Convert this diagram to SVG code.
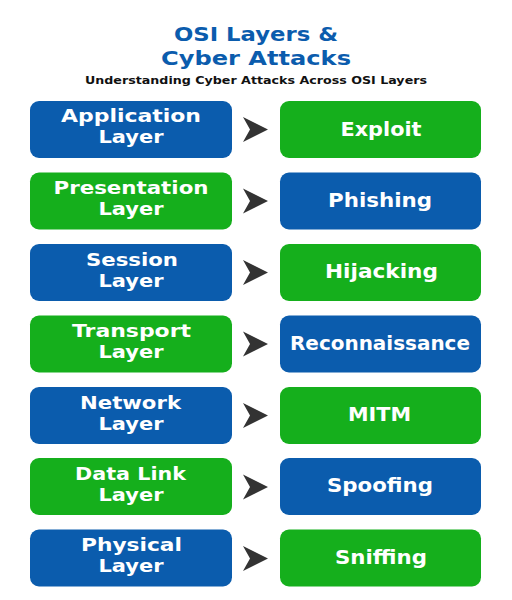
<svg xmlns="http://www.w3.org/2000/svg" width="512" height="600" viewBox="0 0 512 600">
<defs>
<style>
.t{font-family:"DejaVu Sans","Liberation Sans",sans-serif;font-weight:700;text-anchor:middle}
.title{fill:#0B5CAD;font-size:20px}
.sub{fill:#111;font-size:11px}
.b{fill:#0B5CAD}
.g{fill:#15AF1C}
.lbl{fill:#fff;font-size:19px}
.l2{fill:#fff;font-size:18px}
.arr{fill:#333}
</style>
</defs>
<rect width="512" height="600" fill="#fff"/>
<g id="title">
<text class="t title"><tspan x="256" y="40.5" textLength="164" lengthAdjust="spacingAndGlyphs">OSI Layers &amp;</tspan><tspan x="256" y="64.5" textLength="190" lengthAdjust="spacingAndGlyphs">Cyber Attacks</tspan></text>
<text class="t sub" x="256" y="84" textLength="342" lengthAdjust="spacingAndGlyphs">Understanding Cyber Attacks Across OSI Layers</text>
</g>
<g id="connectors" class="arr">
<path d="M243,117 L268,129.5 L243,142 L250,129.5 Z"/>
<path d="M243,188.5 L268,201 L243,213.5 L250,201 Z"/>
<path d="M243,260 L268,272.5 L243,285 L250,272.5 Z"/>
<path d="M243,331.5 L268,344 L243,356.5 L250,344 Z"/>
<path d="M243,403 L268,415.5 L243,428 L250,415.5 Z"/>
<path d="M243,474.5 L268,487 L243,499.5 L250,487 Z"/>
<path d="M243,546 L268,558.5 L243,571 L250,558.5 Z"/>
</g>
<g id="application-layer"><rect class="b" x="30" y="101" width="202" height="57" rx="9"/><text class="t l2" x="131" y="122" textLength="140" lengthAdjust="spacingAndGlyphs">Application</text><text class="t l2" x="131" y="143" textLength="65" lengthAdjust="spacingAndGlyphs">Layer</text></g>
<g id="exploit"><rect class="g" x="280" y="101" width="201" height="57" rx="9"/><text class="t lbl" x="381" y="135.5" textLength="81" lengthAdjust="spacingAndGlyphs">Exploit</text></g>
<g id="presentation-layer"><rect class="g" x="30" y="172.5" width="202" height="57" rx="9"/><text class="t l2" x="131" y="193.5" textLength="155" lengthAdjust="spacingAndGlyphs">Presentation</text><text class="t l2" x="131" y="214.5" textLength="65" lengthAdjust="spacingAndGlyphs">Layer</text></g>
<g id="phishing"><rect class="b" x="280" y="172.5" width="201" height="57" rx="9"/><text class="t lbl" x="380" y="206.5" textLength="104" lengthAdjust="spacingAndGlyphs">Phishing</text></g>
<g id="session-layer"><rect class="b" x="30" y="244" width="202" height="57" rx="9"/><text class="t l2" x="132" y="265.5" textLength="92" lengthAdjust="spacingAndGlyphs">Session</text><text class="t l2" x="131" y="286.5" textLength="65" lengthAdjust="spacingAndGlyphs">Layer</text></g>
<g id="hijacking"><rect class="g" x="280" y="244" width="201" height="57" rx="9"/><text class="t lbl" x="381.5" y="278" textLength="113" lengthAdjust="spacingAndGlyphs">Hijacking</text></g>
<g id="transport-layer"><rect class="g" x="30" y="315.5" width="202" height="57" rx="9"/><text class="t l2" x="131.5" y="337" textLength="119" lengthAdjust="spacingAndGlyphs">Transport</text><text class="t l2" x="131" y="358" textLength="65" lengthAdjust="spacingAndGlyphs">Layer</text></g>
<g id="reconnaissance"><rect class="b" x="280" y="315.5" width="201" height="57" rx="9"/><text class="t lbl" x="380" y="349.5" textLength="180" lengthAdjust="spacingAndGlyphs">Reconnaissance</text></g>
<g id="network-layer"><rect class="b" x="30" y="387" width="202" height="57" rx="9"/><text class="t l2" x="130.5" y="408.5" textLength="101" lengthAdjust="spacingAndGlyphs">Network</text><text class="t l2" x="131" y="429.5" textLength="65" lengthAdjust="spacingAndGlyphs">Layer</text></g>
<g id="mitm"><rect class="g" x="280" y="387" width="201" height="57" rx="9"/><text class="t lbl" x="379.5" y="421" textLength="63" lengthAdjust="spacingAndGlyphs">MITM</text></g>
<g id="data-link-layer"><rect class="g" x="30" y="458" width="202" height="57" rx="9"/><text class="t l2" x="130.5" y="479.5" textLength="111" lengthAdjust="spacingAndGlyphs">Data Link</text><text class="t l2" x="131" y="500.5" textLength="65" lengthAdjust="spacingAndGlyphs">Layer</text></g>
<g id="spoofing"><rect class="b" x="280" y="458" width="201" height="57" rx="9"/><text class="t lbl" x="380" y="492" textLength="106" lengthAdjust="spacingAndGlyphs">Spoofing</text></g>
<g id="physical-layer"><rect class="b" x="30" y="529.5" width="202" height="57" rx="9"/><text class="t l2" x="131.5" y="551" textLength="101" lengthAdjust="spacingAndGlyphs">Physical</text><text class="t l2" x="131" y="572" textLength="65" lengthAdjust="spacingAndGlyphs">Layer</text></g>
<g id="sniffing"><rect class="g" x="280" y="529.5" width="201" height="57" rx="9"/><text class="t lbl" x="381" y="563.5" textLength="92" lengthAdjust="spacingAndGlyphs">Sniffing</text></g>
</svg>
